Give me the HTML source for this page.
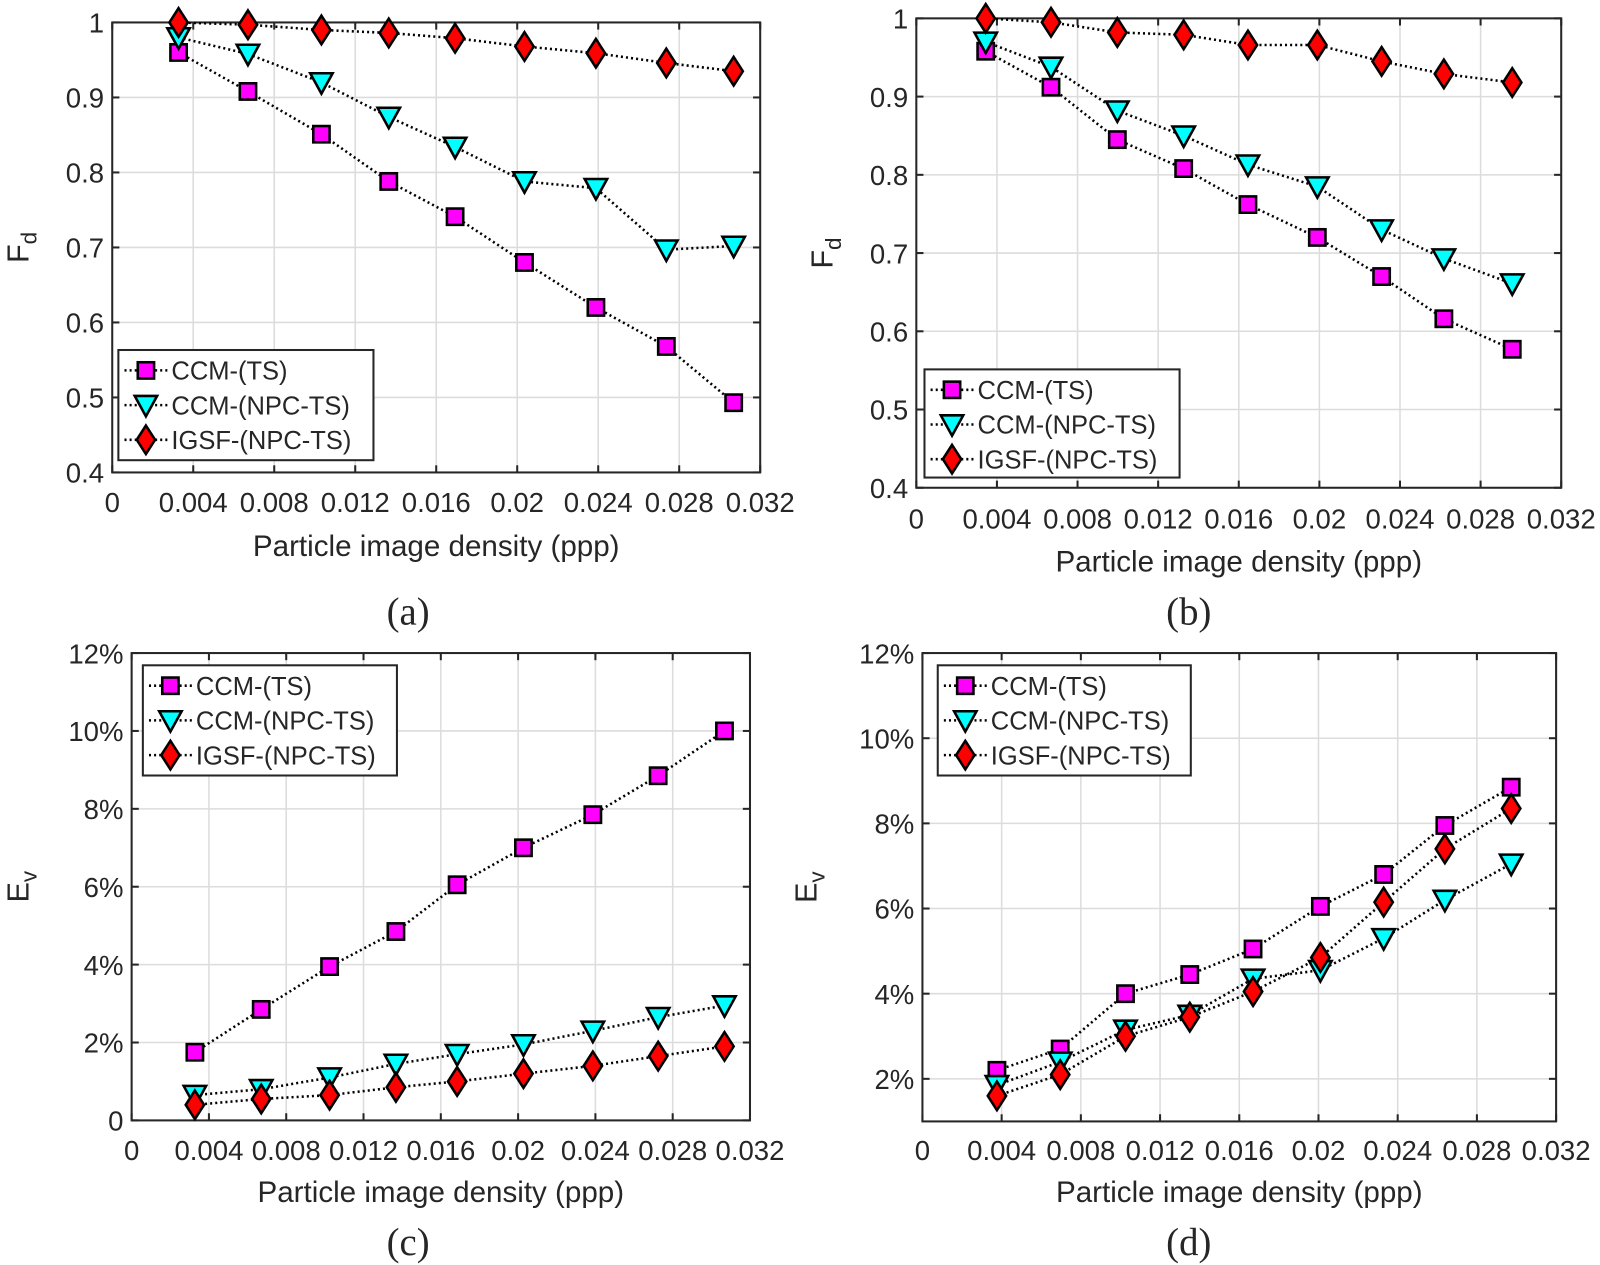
<!DOCTYPE html>
<html><head><meta charset="utf-8"><style>
html,body{margin:0;padding:0;background:#fff;}
svg{display:block;}
text{font-family:"Liberation Sans",Arial,sans-serif;fill:#262626;}
</style></head><body>
<svg width="1600" height="1265" viewBox="0 0 1600 1265" xmlns="http://www.w3.org/2000/svg"><g id="s" transform="scale(1.0204)"></g></svg>
<script>
const S=document.getElementById('s');let h='';
const panels=[
 {x0:110,x1:745,y0:22,y1:463,ymin:0.4,ymax:1,yt:[0.4,0.5,0.6,0.7,0.8,0.9,1],yl:v=>(v==1?'1':v.toFixed(1)),lab:'F',sub:'d',xty:492,xtitle:535,
  px:[175,243,315,381,446,514,584,653,719],
  d:[[0.96,0.908,0.851,0.788,0.741,0.680,0.620,0.568,0.493],[0.98,0.958,0.920,0.874,0.834,0.788,0.779,0.697,0.702],[1.0,0.997,0.990,0.986,0.979,0.968,0.959,0.946,0.935]],
  leg:[116,343,250,108],cap:'(a)',capx:400,capy:612,ax:28},
 {x0:898,x1:1530,y0:18,y1:478,ymin:0.4,ymax:1,yt:[0.4,0.5,0.6,0.7,0.8,0.9,1],yl:v=>(v==1?'1':v.toFixed(1)),lab:'F',sub:'d',xty:508,xtitle:550,
  px:[966,1030,1095,1160,1223,1291,1354,1415,1482],
  d:[[0.958,0.912,0.845,0.808,0.762,0.720,0.670,0.616,0.577],[0.970,0.938,0.882,0.850,0.813,0.785,0.730,0.693,0.661],[1.0,0.995,0.982,0.979,0.966,0.966,0.945,0.929,0.918]],
  leg:[906,362,250,106],cap:'(b)',capx:1165,capy:612,ax:816},
 {x0:129,x1:735,y0:640,y1:1098,ymin:0,ymax:12,yt:[0,2,4,6,8,10,12],yl:v=>(v==0?'0':v+'%'),lab:'E',sub:'v',xty:1127,xtitle:1168,
  px:[191,256,323,388,448,513,581,645,710],
  d:[[1.75,2.85,3.95,4.85,6.05,7.0,7.85,8.85,10.0],[0.65,0.8,1.1,1.45,1.7,1.95,2.3,2.65,2.95],[0.4,0.55,0.65,0.85,1.0,1.2,1.4,1.65,1.9]],
  leg:[140,652,249,108],cap:'(c)',capx:400,capy:1230,ax:28},
 {x0:904,x1:1525,y0:640,y1:1099,ymin:1,ymax:12,yt:[2,4,6,8,10,12],yl:v=>v+'%',lab:'E',sub:'v',xty:1127,xtitle:1168,
  px:[977,1039,1103,1166,1228,1294,1356,1416,1481],
  d:[[2.2,2.7,4.0,4.45,5.05,6.05,6.8,7.95,8.85],[1.85,2.4,3.15,3.5,4.35,4.55,5.3,6.2,7.05],[1.6,2.1,3.0,3.45,4.05,4.85,6.15,7.4,8.35]],
  leg:[919,652,248,108],cap:'(d)',capx:1165,capy:1230,ax:800}
];
function mk(t,x,y){
 if(t==0)return `<rect x="${x-8}" y="${y-8}" width="16" height="16" fill="#ff00ff" stroke="#000" stroke-width="2.5"/>`;
 if(t==1)return `<polygon points="${x-11},${y-9} ${x+11},${y-9} ${x},${y+11}" fill="#00ffff" stroke="#000" stroke-width="2.5"/>`;
 return `<polygon points="${x},${y-14} ${x+9},${y} ${x},${y+14} ${x-9},${y}" fill="#ff0000" stroke="#000" stroke-width="2.5"/>`;
}
const names=['CCM-(TS)','CCM-(NPC-TS)','IGSF-(NPC-TS)'];
panels.forEach(p=>{
 const X=v=>p.x0+(p.x1-p.x0)*v/0.032, Y=v=>p.y1-(p.y1-p.y0)*(v-p.ymin)/(p.ymax-p.ymin);
 for(let i=0;i<=8;i++){const x=X(i*0.004);h+=`<line x1="${x}" y1="${p.y0}" x2="${x}" y2="${p.y1}" stroke="#dcdcdc" stroke-width="1.5"/>`;
  h+=`<line x1="${x}" y1="${p.y1}" x2="${x}" y2="${p.y1-7}" stroke="#262626" stroke-width="2"/><line x1="${x}" y1="${p.y0}" x2="${x}" y2="${p.y0+7}" stroke="#262626" stroke-width="2"/>`;
  const lbl=i==0?'0':(i==5?'0.02':(i*0.004).toFixed(3));
  h+=`<text x="${x}" y="${p.xty+10}" font-size="27" text-anchor="middle">${lbl}</text>`;}
 p.yt.forEach(v=>{const y=Y(v);h+=`<line x1="${p.x0}" y1="${y}" x2="${p.x1}" y2="${y}" stroke="#dcdcdc" stroke-width="1.5"/>`;
  h+=`<line x1="${p.x0}" y1="${y}" x2="${p.x0+7}" y2="${y}" stroke="#262626" stroke-width="2"/><line x1="${p.x1}" y1="${y}" x2="${p.x1-7}" y2="${y}" stroke="#262626" stroke-width="2"/>`;
  h+=`<text x="${p.x0-8}" y="${y+10}" font-size="27" text-anchor="end">${p.yl(v)}</text>`;});
 h+=`<rect x="${p.x0}" y="${p.y0}" width="${p.x1-p.x0}" height="${p.y1-p.y0}" fill="none" stroke="#262626" stroke-width="2"/>`;
 p.d.forEach((arr,t)=>{const pts=arr.map((v,i)=>`${p.px[i]},${Y(v)}`).join(' ');
  h+=`<polyline points="${pts}" fill="none" stroke="#000" stroke-width="2.5" stroke-dasharray="2,3"/>`;});
 p.d.forEach((arr,t)=>{arr.forEach((v,i)=>{h+=mk(t,p.px[i],Y(v));});});
 const [lx,ly,lw,lh]=p.leg;
 h+=`<rect x="${lx}" y="${ly}" width="${lw}" height="${lh}" fill="#fff" stroke="#262626" stroke-width="2"/>`;
 names.forEach((n,i)=>{const yy=ly+20+i*34;
  h+=`<line x1="${lx+6}" y1="${yy}" x2="${lx+48}" y2="${yy}" stroke="#000" stroke-width="2.5" stroke-dasharray="2,3"/>`+mk(i,lx+27,yy);
  h+=`<text x="${lx+52}" y="${yy+9}" font-size="25" fill="#000">${n}</text>`;});
 const cy=(p.y0+p.y1)/2;
 h+=`<text transform="translate(${p.ax},${cy}) rotate(-90)" font-size="30" text-anchor="middle">${p.lab}<tspan font-size="22" dy="8">${p.sub}</tspan></text>`;
 h+=`<text x="${(p.x0+p.x1)/2}" y="${p.xtitle+10}" font-size="29" text-anchor="middle">Particle image density (ppp)</text>`;
 h+=`<text x="${p.capx}" y="${p.capy}" font-size="38" text-anchor="middle" style="font-family:'Liberation Serif',serif" fill="#000">${p.cap}</text>`;
});
S.innerHTML=h;
</script>
</body></html>
